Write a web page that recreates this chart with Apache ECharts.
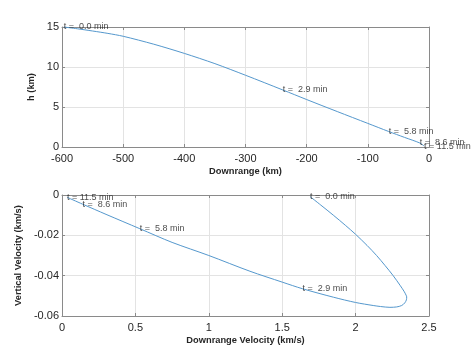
<!DOCTYPE html>
<html>
<head>
<meta charset="utf-8">
<script src="https://cdn.jsdelivr.net/npm/echarts@6/dist/echarts.min.js"></script>
<style>html,body{margin:0;padding:0;background:#fff}#c{width:474px;height:355px}</style>
</head>
<body>
<div id="c"></div>
<script>
// ---- data ----
const topDownrange = [-597, -575, -550, -525, -500, -450, -400, -350, -300, -239, -200, -150, -100, -66, -40, -15, -8];
const topAltitude  = [15.0, 14.78, 14.5, 14.2, 13.84, 12.85, 11.7, 10.42, 8.97, 7.13, 5.93, 4.43, 2.95, 1.94, 1.2, 0.5, 0.12];

const bottomVx = [1.69, 1.763, 1.848, 1.930, 2.0, 2.078, 2.143, 2.201, 2.256, 2.305, 2.332, 2.346, 2.348, 2.346, 2.335, 2.314, 2.28, 2.234, 2.17, 2.12, 2.0, 1.85, 1.639, 1.5, 1.28, 1.0, 0.75, 0.53, 0.3, 0.139, 0.034];
const bottomVz = [-0.0008, -0.005, -0.010, -0.015, -0.0195, -0.025, -0.030, -0.035, -0.040, -0.045, -0.048, -0.050, -0.0505, -0.052, -0.0535, -0.0548, -0.0555, -0.0557, -0.0553, -0.0548, -0.0533, -0.0507, -0.0465, -0.0432, -0.0378, -0.0300, -0.0235, -0.0167, -0.0096, -0.0045, -0.0011];

const labelTimes = [0.0, 2.9, 5.8, 8.6, 11.5];
const topLabelDownrange = [-597, -239, -66, -15, -8];
const topLabelAltitude  = [15.0, 7.13, 1.94, 0.5, 0.12];
const bottomLabelVx = [1.69, 1.639, 0.53, 0.139, 0.034];
const bottomLabelVz = [-0.0008, -0.0465, -0.0167, -0.0045, -0.0011];

const topXTicks = [-600, -500, -400, -300, -200, -100, 0];
const topYTicks = [0, 5, 10, 15];
const bottomXTicks = [0, 0.5, 1, 1.5, 2, 2.5];
const bottomYTicks = [-0.06, -0.04, -0.02, 0];

// ---- helpers ----
const zip = (a, b) => a.map((v, i) => [v, b[i]]);
const fmt = t => 't = ' + t.toFixed(1).padStart(4, ' ') + ' min';
const fmtNum = v => String(parseFloat(v.toFixed(4)));

const axisColor = '#8a8a8a';
const textColor = '#262626';
const font = 'Liberation Sans, Arial, Helvetica, sans-serif';
const lineColor = '#5598cd';

function mkX(gridIndex, ticks, name, show) {
  const min = ticks[0], max = ticks[ticks.length - 1];
  const interval = +(ticks[1] - ticks[0]).toFixed(6);
  return {
    type: 'value', gridIndex, min, max, interval,
    position: show ? 'bottom' : 'top',
    name: show ? name : '', nameLocation: 'middle', nameGap: 20,
    nameTextStyle: { fontFamily: font, fontSize: 9.3, fontWeight: 'bold', color: textColor },
    axisLine: { show: true, onZero: false, lineStyle: { color: axisColor, width: 1 } },
    axisTick: { show: true, inside: true, length: 3, lineStyle: { color: axisColor } },
    axisLabel: { show: show, fontFamily: font, fontSize: 11, color: textColor, margin: 6, formatter: fmtNum, hideOverlap: false },
    splitLine: { show: show, lineStyle: { color: '#e3e3e3', width: 1 } }
  };
}
function mkY(gridIndex, ticks, name, show, gap) {
  const min = ticks[0], max = ticks[ticks.length - 1];
  const interval = +(ticks[1] - ticks[0]).toFixed(6);
  return {
    type: 'value', gridIndex, min, max, interval,
    position: show ? 'left' : 'right',
    name: show ? name : '', nameLocation: 'middle', nameGap: gap, nameRotate: 90,
    nameTextStyle: { fontFamily: font, fontSize: 9.3, fontWeight: 'bold', color: textColor },
    axisLine: { show: true, onZero: false, lineStyle: { color: axisColor, width: 1 } },
    axisTick: { show: true, inside: true, length: 3, lineStyle: { color: axisColor } },
    axisLabel: { show: show, fontFamily: font, fontSize: 11, color: textColor, margin: 3, formatter: fmtNum },
    splitLine: { show: show, lineStyle: { color: '#e3e3e3', width: 1 } }
  };
}
function labelSeries(xi, yi, xs, ys) {
  return {
    type: 'scatter', xAxisIndex: xi, yAxisIndex: yi, symbolSize: 0, silent: true,
    data: xs.map((x, i) => ({ value: [x, ys[i]], name: fmt(labelTimes[i]) })),
    label: {
      show: true, position: 'right', distance: 0, align: 'left', verticalAlign: 'middle',
      formatter: p => p.name, fontFamily: font, fontSize: 9, color: '#1a1a1a'
    },
    z: 5
  };
}

const chart = echarts.init(document.getElementById('c'), null, { renderer: 'canvas' });
chart.setOption({
  animation: false,
  backgroundColor: '#fff',
  grid: [
    { left: 62, right: 45, top: 27, height: 120, containLabel: false },
    { left: 62, right: 45, top: 195, height: 121, containLabel: false }
  ],
  xAxis: [
    mkX(0, topXTicks, 'Downrange (km)', true),
    mkX(0, topXTicks, '', false),
    mkX(1, bottomXTicks, 'Downrange Velocity (km/s)', true),
    mkX(1, bottomXTicks, '', false)
  ],
  yAxis: [
    mkY(0, topYTicks, 'h (km)', true, 18),
    mkY(0, topYTicks, '', false, 0),
    mkY(1, bottomYTicks, 'Vertical Velocity (km/s)', true, 31),
    mkY(1, bottomYTicks, '', false, 0)
  ],
  series: [
    { type: 'line', xAxisIndex: 0, yAxisIndex: 0, data: zip(topDownrange, topAltitude), showSymbol: false, smooth: 0.3,
      lineStyle: { color: lineColor, width: 1 }, clip: false },
    { type: 'line', xAxisIndex: 2, yAxisIndex: 2, data: zip(bottomVx, bottomVz), showSymbol: false, smooth: 0.3,
      lineStyle: { color: lineColor, width: 1 }, clip: false },
    labelSeries(0, 0, topLabelDownrange, topLabelAltitude),
    labelSeries(2, 2, bottomLabelVx, bottomLabelVz)
  ]
});
</script>
</body>
</html>
